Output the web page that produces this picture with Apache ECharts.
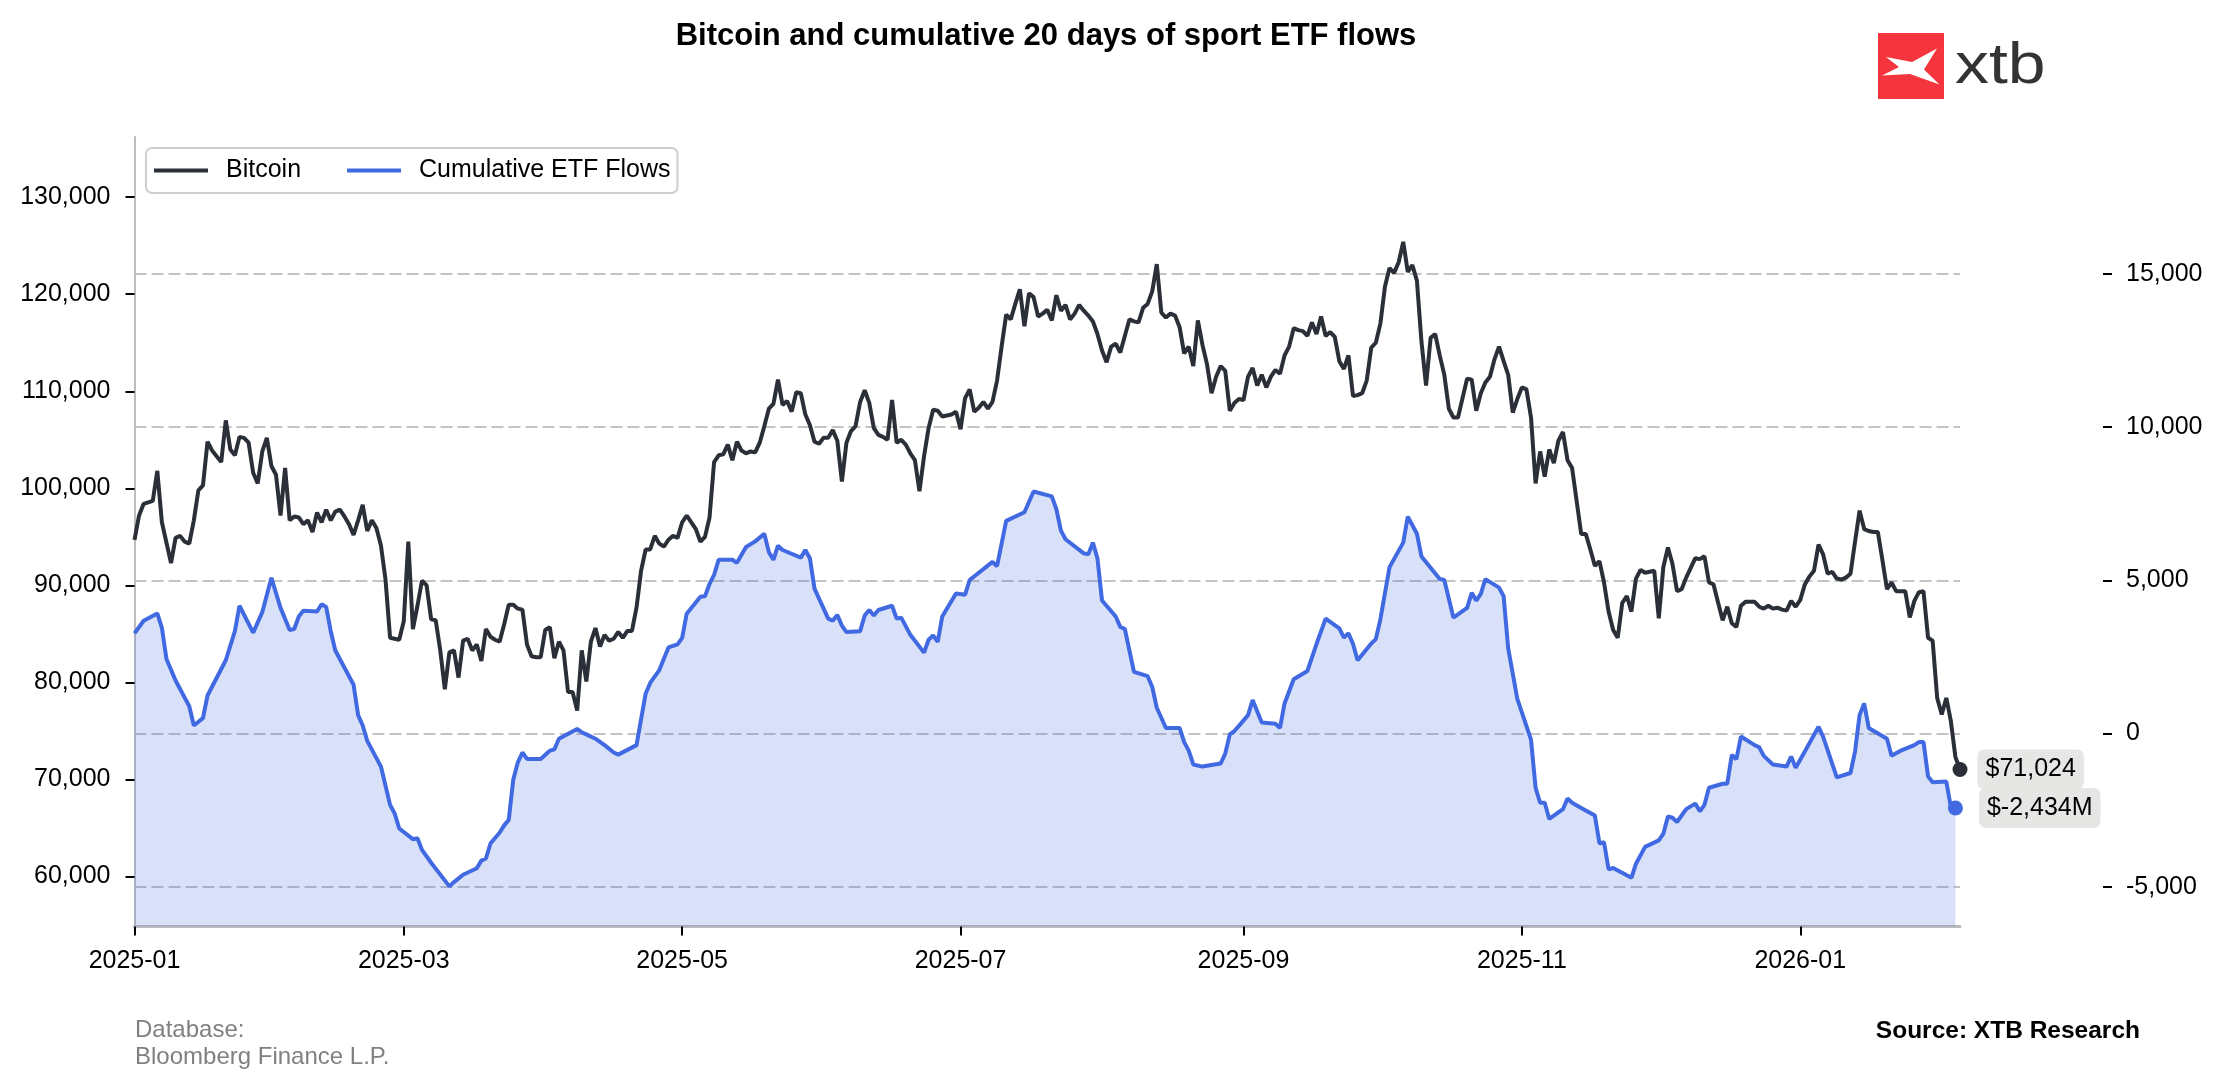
<!DOCTYPE html>
<html lang="en">
	<head>
		<meta charset="UTF-8">
		<title>Bitcoin and cumulative 20 days of sport ETF flows</title>
		<script src="https://cdn.jsdelivr.net/npm/echarts@6.0.0/dist/echarts.min.js"></script>
		<style>
			html, body { margin: 0; padding: 0; background: #fff; }
			#main { width: 2224px; height: 1092px; }
		</style>
	</head>
	<body>
		<div id="main"></div>
		<script>
			// Bitcoin daily close, USD
			var bitcoin = [
				['2025-01-01',94700],['2025-01-02',97200],['2025-01-03',98400],['2025-01-05',98700],['2025-01-06',101800],['2025-01-07',96500],
				['2025-01-09',92300],['2025-01-10',94900],['2025-01-11',95100],['2025-01-12',94500],['2025-01-13',94300],['2025-01-14',96700],
				['2025-01-15',99800],['2025-01-16',100300],['2025-01-17',104800],['2025-01-18',103900],['2025-01-20',102700],['2025-01-21',107000],
				['2025-01-22',104000],['2025-01-23',103400],['2025-01-24',105300],['2025-01-25',105200],['2025-01-26',104700],['2025-01-27',101600],
				['2025-01-28',100500],['2025-01-29',103800],['2025-01-30',105200],['2025-01-31',102300],['2025-02-01',101400],['2025-02-02',97200],
				['2025-02-03',102100],['2025-02-04',96700],['2025-02-05',97100],['2025-02-06',97000],['2025-02-07',96300],['2025-02-08',96700],
				['2025-02-09',95500],['2025-02-10',97500],['2025-02-11',96500],['2025-02-12',97800],['2025-02-13',96700],['2025-02-14',97600],
				['2025-02-15',97800],['2025-02-16',97100],['2025-02-17',96300],['2025-02-18',95200],['2025-02-19',96700],['2025-02-20',98300],
				['2025-02-21',95600],['2025-02-22',96700],['2025-02-23',95900],['2025-02-24',94100],['2025-02-25',90600],['2025-02-26',84600],
				['2025-02-27',84500],['2025-02-28',84400],['2025-03-01',86300],['2025-03-02',94500],['2025-03-03',85500],['2025-03-04',87900],
				['2025-03-05',90500],['2025-03-06',90000],['2025-03-07',86500],['2025-03-08',86400],['2025-03-09',83300],['2025-03-10',79300],
				['2025-03-11',83100],['2025-03-12',83300],['2025-03-13',80500],['2025-03-14',84300],['2025-03-15',84500],['2025-03-16',83300],
				['2025-03-17',83900],['2025-03-18',82200],['2025-03-19',85500],['2025-03-20',84700],['2025-03-21',84400],['2025-03-22',84200],
				['2025-03-23',86000],['2025-03-24',88000],['2025-03-25',88000],['2025-03-26',87600],['2025-03-27',87500],['2025-03-28',83900],
				['2025-03-29',82700],['2025-03-30',82600],['2025-03-31',82600],['2025-04-01',85400],['2025-04-02',85700],['2025-04-03',82500],
				['2025-04-04',84200],['2025-04-05',83300],['2025-04-06',79000],['2025-04-07',79000],['2025-04-08',77100],['2025-04-09',83300],
				['2025-04-10',80100],['2025-04-11',84200],['2025-04-12',85600],['2025-04-13',83700],['2025-04-14',84900],['2025-04-15',84300],
				['2025-04-16',84500],['2025-04-17',85200],['2025-04-18',84600],['2025-04-19',85300],['2025-04-20',85300],['2025-04-21',87700],
				['2025-04-22',91500],['2025-04-23',93700],['2025-04-24',93700],['2025-04-25',95100],['2025-04-26',94300],['2025-04-27',94000],
				['2025-04-28',94700],['2025-04-29',95100],['2025-04-30',94900],['2025-05-01',96500],['2025-05-02',97200],['2025-05-03',96500],
				['2025-05-04',95800],['2025-05-05',94500],['2025-05-06',95000],['2025-05-07',97000],['2025-05-08',102700],['2025-05-09',103400],
				['2025-05-10',103500],['2025-05-11',104500],['2025-05-12',102900],['2025-05-13',104800],['2025-05-14',103900],['2025-05-15',103600],
				['2025-05-16',103800],['2025-05-17',103700],['2025-05-18',104700],['2025-05-19',106400],['2025-05-20',108200],['2025-05-21',108700],
				['2025-05-22',111200],['2025-05-23',108600],['2025-05-24',109000],['2025-05-25',107900],['2025-05-26',109900],['2025-05-27',109800],
				['2025-05-28',107600],['2025-05-29',106500],['2025-05-30',104800],['2025-05-31',104600],['2025-06-01',105200],['2025-06-02',105200],
				['2025-06-03',106000],['2025-06-04',104900],['2025-06-05',100700],['2025-06-06',104700],['2025-06-07',105900],['2025-06-08',106400],
				['2025-06-09',108900],['2025-06-10',110100],['2025-06-11',108800],['2025-06-12',106200],['2025-06-13',105500],['2025-06-14',105300],
				['2025-06-15',105000],['2025-06-16',109100],['2025-06-17',104700],['2025-06-18',105000],['2025-06-19',104500],['2025-06-20',103600],
				['2025-06-21',102900],['2025-06-22',99700],['2025-06-23',103300],['2025-06-24',106200],['2025-06-25',108100],['2025-06-26',108000],
				['2025-06-27',107400],['2025-06-28',107500],['2025-06-29',107600],['2025-06-30',107900],['2025-07-01',106100],['2025-07-02',109300],
				['2025-07-03',110200],['2025-07-04',107900],['2025-07-05',108300],['2025-07-06',108900],['2025-07-07',108200],['2025-07-08',108900],
				['2025-07-09',111100],['2025-07-10',114600],['2025-07-11',117900],['2025-07-12',117400],['2025-07-13',119000],['2025-07-14',120500],
				['2025-07-15',116700],['2025-07-16',120100],['2025-07-17',119700],['2025-07-18',117700],['2025-07-19',118000],['2025-07-20',118400],
				['2025-07-21',117300],['2025-07-22',119900],['2025-07-23',118300],['2025-07-24',118900],['2025-07-25',117400],['2025-07-26',118000],
				['2025-07-27',118900],['2025-07-28',118300],['2025-07-29',117800],['2025-07-30',117200],['2025-07-31',115900],['2025-08-01',114200],
				['2025-08-02',113000],['2025-08-03',114600],['2025-08-04',114900],['2025-08-05',114000],['2025-08-06',115700],['2025-08-07',117400],
				['2025-08-08',117200],['2025-08-09',117100],['2025-08-10',118600],['2025-08-11',119000],['2025-08-12',120300],['2025-08-13',123100],
				['2025-08-14',118100],['2025-08-15',117600],['2025-08-16',118000],['2025-08-17',117800],['2025-08-18',116600],['2025-08-19',113900],
				['2025-08-20',114600],['2025-08-21',112600],['2025-08-22',117300],['2025-08-23',114800],['2025-08-24',112800],['2025-08-25',109800],
				['2025-08-26',111500],['2025-08-27',112600],['2025-08-28',112100],['2025-08-29',108000],['2025-08-30',108800],['2025-08-31',109200],
				['2025-09-01',109100],['2025-09-02',111500],['2025-09-03',112400],['2025-09-04',110600],['2025-09-05',111700],['2025-09-06',110400],
				['2025-09-07',111500],['2025-09-08',112200],['2025-09-09',111800],['2025-09-10',113700],['2025-09-11',114600],['2025-09-12',116500],
				['2025-09-13',116300],['2025-09-14',116200],['2025-09-15',115700],['2025-09-16',117100],['2025-09-17',115900],['2025-09-18',117700],
				['2025-09-19',115700],['2025-09-20',116100],['2025-09-21',115600],['2025-09-22',113100],['2025-09-23',112300],['2025-09-24',113700],
				['2025-09-25',109500],['2025-09-26',109600],['2025-09-27',109800],['2025-09-28',111100],['2025-09-29',114500],['2025-09-30',115000],
				['2025-10-01',117000],['2025-10-02',120800],['2025-10-03',122700],['2025-10-04',122200],['2025-10-05',123300],['2025-10-06',125400],
				['2025-10-07',122300],['2025-10-08',123000],['2025-10-09',121400],['2025-10-10',115100],['2025-10-11',110600],['2025-10-12',115500],
				['2025-10-13',115900],['2025-10-14',113700],['2025-10-15',111700],['2025-10-16',108200],['2025-10-17',107300],['2025-10-18',107300],
				['2025-10-19',109300],['2025-10-20',111300],['2025-10-21',111200],['2025-10-22',108000],['2025-10-23',109800],['2025-10-24',110900],
				['2025-10-25',111500],['2025-10-26',113300],['2025-10-27',114600],['2025-10-28',113100],['2025-10-29',111700],['2025-10-30',107800],
				['2025-10-31',109200],['2025-11-01',110400],['2025-11-02',110200],['2025-11-03',107300],['2025-11-04',100500],['2025-11-05',103800],
				['2025-11-06',101200],['2025-11-07',104000],['2025-11-08',102600],['2025-11-09',104900],['2025-11-10',105800],['2025-11-11',102900],
				['2025-11-12',102100],['2025-11-13',98700],['2025-11-14',95300],['2025-11-15',95300],['2025-11-16',93700],['2025-11-17',92000],
				['2025-11-18',92500],['2025-11-19',90300],['2025-11-20',87300],['2025-11-21',85400],['2025-11-22',84600],['2025-11-23',88200],
				['2025-11-24',88900],['2025-11-25',87300],['2025-11-26',90700],['2025-11-27',91600],['2025-11-28',91300],['2025-11-29',91400],
				['2025-11-30',91500],['2025-12-01',86600],['2025-12-02',91900],['2025-12-03',93900],['2025-12-04',92200],['2025-12-05',89400],
				['2025-12-06',89600],['2025-12-07',90800],['2025-12-08',91800],['2025-12-09',92800],['2025-12-10',92700],['2025-12-11',93000],
				['2025-12-12',90300],['2025-12-13',90100],['2025-12-14',88200],['2025-12-15',86400],['2025-12-16',87800],['2025-12-17',86100],
				['2025-12-18',85700],['2025-12-19',87900],['2025-12-20',88300],['2025-12-21',88300],['2025-12-22',88300],['2025-12-23',87800],
				['2025-12-24',87600],['2025-12-25',87900],['2025-12-26',87600],['2025-12-27',87700],['2025-12-28',87500],['2025-12-29',87400],
				['2025-12-30',88400],['2025-12-31',87800],['2026-01-01',88500],['2026-01-02',90100],['2026-01-03',90900],['2026-01-04',91500],
				['2026-01-05',94200],['2026-01-06',93200],['2026-01-07',91200],['2026-01-08',91400],['2026-01-09',90700],['2026-01-10',90600],
				['2026-01-11',90800],['2026-01-12',91200],['2026-01-13',94500],['2026-01-14',97700],['2026-01-15',95800],['2026-01-16',95600],
				['2026-01-17',95500],['2026-01-18',95500],['2026-01-19',92600],['2026-01-20',89600],['2026-01-21',90300],['2026-01-22',89400],
				['2026-01-23',89400],['2026-01-24',89400],['2026-01-25',86700],['2026-01-26',88400],['2026-01-27',89300],['2026-01-28',89400],
				['2026-01-29',84600],['2026-01-30',84300],['2026-01-31',78400],['2026-02-01',76700],['2026-02-02',78400],['2026-02-03',76000],
				['2026-02-04',72300],['2026-02-05',71024]
			];

			// cumulative 20-day spot ETF flows, USD mln
			var etfFlows = [
				['2025-01-01',3270],['2025-01-03',3680],['2025-01-06',3920],['2025-01-07',3450],['2025-01-08',2430],['2025-01-10',1730],
				['2025-01-13',890],['2025-01-14',260],['2025-01-16',500],['2025-01-17',1240],['2025-01-21',2390],['2025-01-23',3340],
				['2025-01-24',4170],['2025-01-27',3290],['2025-01-29',3960],['2025-01-31',5080],['2025-02-02',4100],['2025-02-04',3380],
				['2025-02-05',3410],['2025-02-06',3820],['2025-02-07',4010],['2025-02-10',3980],['2025-02-11',4220],['2025-02-12',4130],
				['2025-02-13',3340],['2025-02-14',2710],['2025-02-18',1590],['2025-02-19',600],['2025-02-20',260],['2025-02-21',-240],
				['2025-02-24',-1080],['2025-02-26',-2330],['2025-02-27',-2610],['2025-02-28',-3100],['2025-03-03',-3450],['2025-03-04',-3420],
				['2025-03-05',-3800],['2025-03-07',-4220],['2025-03-11',-4990],['2025-03-12',-4850],['2025-03-14',-4610],['2025-03-17',-4400],
				['2025-03-18',-4150],['2025-03-19',-4080],['2025-03-20',-3590],['2025-03-21',-3410],['2025-03-22',-3240],['2025-03-23',-3000],
				['2025-03-24',-2820],['2025-03-25',-1500],['2025-03-26',-940],['2025-03-27',-620],['2025-03-28',-830],['2025-03-31',-830],
				['2025-04-02',-560],['2025-04-03',-520],['2025-04-04',-170],['2025-04-08',150],['2025-04-09',40],['2025-04-10',-30],
				['2025-04-12',-170],['2025-04-14',-380],['2025-04-16',-620],['2025-04-17',-690],['2025-04-21',-380],['2025-04-22',460],
				['2025-04-23',1300],['2025-04-24',1650],['2025-04-26',2070],['2025-04-28',2810],['2025-04-30',2910],['2025-05-01',3120],
				['2025-05-02',3910],['2025-05-05',4460],['2025-05-06',4480],['2025-05-07',4880],['2025-05-08',5180],['2025-05-09',5670],
				['2025-05-12',5670],['2025-05-13',5570],['2025-05-15',6090],['2025-05-17',6270],['2025-05-19',6520],['2025-05-20',5920],
				['2025-05-21',5670],['2025-05-22',6130],['2025-05-23',5990],['2025-05-27',5740],['2025-05-28',5990],['2025-05-29',5710],
				['2025-05-30',4730],['2025-06-02',3750],['2025-06-03',3680],['2025-06-04',3870],['2025-06-05',3520],['2025-06-06',3310],
				['2025-06-09',3340],['2025-06-10',3850],['2025-06-11',4030],['2025-06-12',3850],['2025-06-13',4030],['2025-06-16',4170],
				['2025-06-17',3750],['2025-06-18',3780],['2025-06-20',3220],['2025-06-23',2640],['2025-06-24',3060],['2025-06-25',3200],
				['2025-06-26',2990],['2025-06-27',3820],['2025-06-30',4570],['2025-07-02',4530],['2025-07-03',5010],['2025-07-08',5600],
				['2025-07-09',5460],['2025-07-10',6200],['2025-07-11',6940],['2025-07-15',7220],['2025-07-17',7900],['2025-07-21',7740],
				['2025-07-22',7320],['2025-07-23',6620],['2025-07-24',6340],['2025-07-28',5880],['2025-07-29',5850],['2025-07-30',6230],
				['2025-07-31',5710],['2025-08-01',4340],['2025-08-04',3820],['2025-08-05',3480],['2025-08-06',3410],['2025-08-07',2710],
				['2025-08-08',2010],['2025-08-11',1870],['2025-08-12',1520],['2025-08-13',840],['2025-08-15',180],['2025-08-18',180],
				['2025-08-19',-280],['2025-08-20',-560],['2025-08-21',-1010],['2025-08-23',-1080],['2025-08-27',-980],['2025-08-28',-660],
				['2025-08-29',-30],['2025-08-30',80],['2025-08-31',250],['2025-09-02',600],['2025-09-03',1090],['2025-09-05',360],
				['2025-09-08',320],['2025-09-09',180],['2025-09-10',980],['2025-09-12',1770],['2025-09-15',2040],['2025-09-17',2920],
				['2025-09-19',3750],['2025-09-22',3430],['2025-09-23',3130],['2025-09-24',3270],['2025-09-25',2920],['2025-09-26',2390],
				['2025-09-29',2940],['2025-09-30',3080],['2025-10-01',3730],['2025-10-03',5430],['2025-10-06',6230],['2025-10-07',7080],
				['2025-10-09',6520],['2025-10-10',5780],['2025-10-14',5040],['2025-10-15',5010],['2025-10-17',3780],['2025-10-20',4100],
				['2025-10-21',4590],['2025-10-22',4340],['2025-10-23',4560],['2025-10-24',5040],['2025-10-27',4760],['2025-10-28',4480],
				['2025-10-29',2780],['2025-10-31',1130],['2025-11-03',-200],['2025-11-04',-1770],['2025-11-05',-2260],['2025-11-06',-2260],
				['2025-11-07',-2790],['2025-11-10',-2470],['2025-11-11',-2120],['2025-11-12',-2260],['2025-11-14',-2430],['2025-11-17',-2680],
				['2025-11-18',-3590],['2025-11-19',-3550],['2025-11-20',-4430],['2025-11-21',-4390],['2025-11-25',-4710],['2025-11-26',-4250],
				['2025-11-28',-3700],['2025-12-01',-3490],['2025-12-02',-3270],['2025-12-03',-2710],['2025-12-04',-2750],['2025-12-05',-2890],
				['2025-12-07',-2470],['2025-12-09',-2290],['2025-12-10',-2540],['2025-12-11',-2330],['2025-12-12',-1770],['2025-12-15',-1640],
				['2025-12-16',-1640],['2025-12-17',-700],['2025-12-18',-840],['2025-12-19',-100],['2025-12-22',-380],['2025-12-23',-450],
				['2025-12-24',-730],['2025-12-26',-1010],['2025-12-29',-1080],['2025-12-30',-750],['2025-12-31',-1120],['2026-01-02',-590],
				['2026-01-05',220],['2026-01-06',-100],['2026-01-09',-1430],['2026-01-12',-1290],['2026-01-13',-590],['2026-01-14',600],
				['2026-01-15',980],['2026-01-16',180],['2026-01-20',-170],['2026-01-21',-730],['2026-01-23',-560],['2026-01-26',-380],
				['2026-01-27',-280],['2026-01-28',-280],['2026-01-29',-1400],['2026-01-30',-1590],['2026-02-02',-1570],['2026-02-03',-2400],
				['2026-02-04',-2434]
			];

			var seriesNames = ['Bitcoin', 'Cumulative ETF Flows'];
			var xTickLabels = ['2025-01', '2025-03', '2025-05', '2025-07', '2025-09', '2025-11', '2026-01'];
			var btcTicks = [60000, 70000, 80000, 90000, 100000, 110000, 120000, 130000];
			var etfTicks = [-5000, 0, 5000, 10000, 15000];
			var xRange = ['2025-01-01', '2026-02-05'];

			var FONT = "'Liberation Sans', Arial, Helvetica, sans-serif";
			var FS = 25;
			var btcColor = '#2b2f38';
			var etfColor = '#4169e1';

			function toTime(s) {
				return new Date(s + 'T00:00:00').getTime();
			}
			function fmtNum(v) {
				return Number(v).toLocaleString('en-US');
			}
			function pad2(n) {
				return n < 10 ? '0' + n : '' + n;
			}
			function toPoints(rows) {
				return rows.map(function(r) { return [toTime(r[0]), r[1]]; });
			}

			var xTickValues = xTickLabels.map(function(s) { return toTime(s + '-01'); });
			var btcData = toPoints(bitcoin);
			var etfData = toPoints(etfFlows);
			var btcLast = btcData[btcData.length - 1];
			var etfLast = etfData[etfData.length - 1];

			var chart = echarts.init(document.getElementById('main'), null, {renderer: 'canvas'});

			var endLabel = {
				show: true,
				position: 'right',
				color: '#000',
				fontSize: FS,
				fontFamily: FONT,
				backgroundColor: '#e6e6e5',
				borderRadius: 7,
				padding: [8, 8, 7, 8]
			};

			var option = {
				animation: false,
				textStyle: { fontFamily: FONT },
				grid: {
					left: 134.5,
					right: 264,
					top: 137,
					bottom: 165.5,
					containLabel: false,
					outerBoundsMode: 'none'
				},
				legend: {
					data: seriesNames,
					left: 146,
					top: 148,
					orient: 'horizontal',
					icon: 'rect',
					itemWidth: 54,
					itemHeight: 4,
					itemGap: 46,
					padding: [10, 7, 10, 8],
					borderColor: '#cfcfcf',
					borderWidth: 2,
					borderRadius: 6,
					backgroundColor: '#fff',
					textStyle: { fontSize: FS, color: '#000', fontFamily: FONT, padding: [0, 0, 0, 13] }
				},
				// dates are plotted as timestamps on a value axis
				xAxis: {
					type: 'value',
					min: toTime(xRange[0]),
					max: toTime(xRange[1]),
					axisLine: { onZero: false, lineStyle: { color: '#bdbdbd', width: 3 } },
					axisTick: { show: true, length: 9, customValues: xTickValues, lineStyle: { color: '#000', width: 2 } },
					axisLabel: {
						customValues: xTickValues,
						margin: 22,
						fontSize: FS,
						color: '#000',
						fontFamily: FONT,
						formatter: function(v) {
							var d = new Date(v);
							return d.getFullYear() + '-' + pad2(d.getMonth() + 1);
						}
					},
					splitLine: { show: false }
				},
				yAxis: [
					{
						type: 'value',
						position: 'left',
						min: 54850,
						max: 136200,
						axisLine: { show: true, lineStyle: { color: '#bdbdbd', width: 2 } },
						axisTick: { show: true, length: 9, customValues: btcTicks, lineStyle: { color: '#000', width: 2 } },
						axisLabel: { customValues: btcTicks, margin: 24, fontSize: FS, color: '#000', fontFamily: FONT, formatter: fmtNum },
						splitLine: { show: false }
					},
					{
						type: 'value',
						position: 'right',
						offset: 143,
						min: -6300,
						max: 19470,
						axisLine: { show: false },
						axisTick: { show: true, length: 9, customValues: etfTicks, lineStyle: { color: '#000', width: 2 } },
						axisLabel: { customValues: etfTicks, margin: 23, fontSize: FS, color: '#000', fontFamily: FONT, formatter: fmtNum },
						splitLine: {
							show: true,
							showMinLine: true,
							showMaxLine: true,
							lineStyle: { color: '#c4c4c4', width: 2, type: [12, 5] }
						}
					}
				],
				series: [
					{
						name: seriesNames[1],
						type: 'line',
						yAxisIndex: 1,
						data: etfData,
						color: etfColor,
						symbol: 'none',
						lineStyle: { color: etfColor, width: 4 },
						areaStyle: { color: 'rgba(65,105,225,0.2)', opacity: 1, origin: 'start' },
						markPoint: {
							symbol: 'circle',
							symbolSize: 15,
							itemStyle: { color: etfColor },
							label: Object.assign({}, endLabel, {
								distance: 16,
								formatter: function() { return '$' + fmtNum(etfLast[1]) + 'M'; }
							}),
							data: [{ coord: etfLast }]
						},
						z: 2
					},
					{
						name: seriesNames[0],
						type: 'line',
						yAxisIndex: 0,
						data: btcData,
						color: btcColor,
						symbol: 'none',
						lineStyle: { color: btcColor, width: 4 },
						markPoint: {
							symbol: 'circle',
							symbolSize: 15,
							itemStyle: { color: btcColor },
							label: Object.assign({}, endLabel, {
								distance: 10,
								formatter: function() { return '$' + fmtNum(btcLast[1]); }
							}),
							data: [{ coord: btcLast }]
						},
						z: 3
					}
				],
				graphic: [
					{
						type: 'text',
						x: 1046,
						y: 36,
						style: {
							text: 'Bitcoin and cumulative 20 days of sport ETF flows',
							font: 'bold 31px ' + FONT,
							fill: '#000',
							align: 'center',
							verticalAlign: 'middle'
						}
					},
					// xtb logo
					{
						type: 'group',
						x: 1878,
						y: 33,
						children: [
							{ type: 'rect', shape: { x: 0, y: 0, width: 66, height: 66 }, style: { fill: '#f5353d' } },
							{
								type: 'polygon',
								shape: { points: [[8, 24], [34, 29], [59, 15.5], [46, 36.5], [61.5, 51.5], [32, 41], [4, 42.5], [21, 34]] },
								style: { fill: '#fff' }
							}
						]
					},
					{
						type: 'text',
						x: 1955,
						y: 67,
						scaleX: 1.17,
						style: { text: 'xtb', font: '58px ' + FONT, fill: '#333', align: 'left', verticalAlign: 'middle' }
					},
					{
						type: 'text',
						x: 135,
						y: 1030,
						style: { text: 'Database:', font: '24px ' + FONT, fill: '#808080', verticalAlign: 'middle' }
					},
					{
						type: 'text',
						x: 135,
						y: 1057,
						style: { text: 'Bloomberg Finance L.P.', font: '24px ' + FONT, fill: '#808080', verticalAlign: 'middle' }
					},
					{
						type: 'text',
						x: 2140,
						y: 1031,
						style: { text: 'Source: XTB Research', font: 'bold 24.5px ' + FONT, fill: '#000', align: 'right', verticalAlign: 'middle' }
					}
				]
			};

			chart.setOption(option);
		</script>
	</body>
</html>
